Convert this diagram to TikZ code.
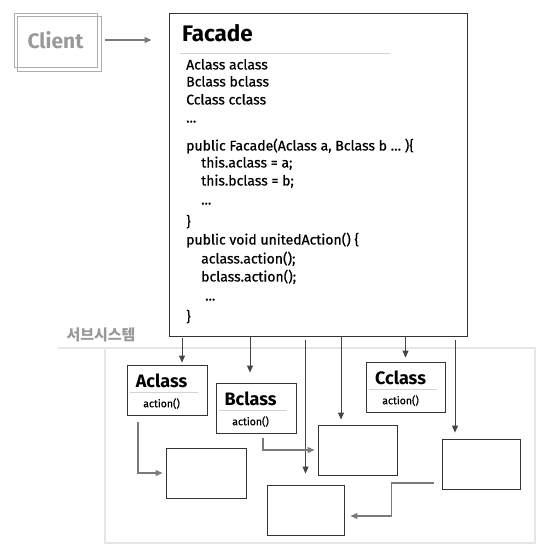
\documentclass[tikz,border=0pt]{standalone}
\usepackage{fontspec}
\setmainfont{Fira Sans}
\newfontfamily\codefont{Fira Sans}[FakeBold=0.6]
\newfontfamily\kofont{Noto Sans CJK KR}
\usetikzlibrary{arrows.meta, positioning}
\definecolor{boxgray}{HTML}{333333}
\definecolor{arrowgray}{HTML}{444444}
\definecolor{linkgray}{HTML}{7A7A7A}
\definecolor{sepgray}{HTML}{D4D4D4}
\definecolor{framegray}{HTML}{E6E6E6}
\definecolor{labelgray}{HTML}{999999}
\newcommand{\drawClassBox}[2]{%
  \node[classtitle] at ([xshift=35pt,yshift=-16pt]#1.north west) {#2};
  \draw[sepline] ([xshift=3pt,yshift=-28pt]#1.north west) -- ++(68pt,0pt);
  \node[method] at ([xshift=35pt,yshift=-39pt]#1.north west) {action()};}
\tikzset{
    arr/.style={-{Triangle[width=6pt,length=7pt]}, draw=arrowgray, line width=0.9pt},
    linkarr/.style={-{Triangle[width=6pt,length=7pt]}, draw=linkgray, line width=1.1pt},
    box/.style={draw=boxgray, line width=0.9pt, inner sep=0pt,
        minimum width=80pt, minimum height=50pt},
    code/.style={anchor=west, inner sep=0pt, text height=.7em, text depth=0pt,
        font=\codefont\fontsize{14}{16}\selectfont},
    classtitle/.style={inner sep=0pt, font=\bfseries\fontsize{18}{20}\selectfont},
    method/.style={inner sep=0pt, font=\codefont\fontsize{10.5}{12}\selectfont},
    sepline/.style={draw=sepgray, line width=0.8pt},
    clientline/.style={draw=labelgray!80, line width=0.9pt}}
\begin{document}
\begin{tikzpicture}[x=1pt, y=-1pt]
\useasboundingbox (0,0) rectangle (546,552);
% client
\node[clientline, draw, minimum width=83pt, minimum height=54pt,
    text=labelgray, font=\bfseries\fontsize{21}{24}\selectfont] (client) at (55.5,40) {Client};
\draw[clientline] ([xshift=4pt,yshift=-4pt]client.north west)
    rectangle ([xshift=4pt,yshift=-4pt]client.south east);
% facade
\node[box, minimum width=298pt, minimum height=323pt] (facade) at (318,174.5) {};
\node[inner sep=0pt, font=\bfseries\fontsize{22.5}{26}\selectfont] (title) at (217.5,33) {Facade};
\draw[sepline] (180,53) -- (390,53);
\node[code] at (186,66)  {Aclass aclass};
\node[code] at (186,83)  {Bclass bclass};
\node[code] at (186,101) {Cclass cclass};
\node[code] at (186,119) {...};
\node[code] at (186,147) {public Facade(Aclass a, Bclass b … )\{};
\node[code] at (201,164) {this.aclass = a;};
\node[code] at (201,182) {this.bclass = b;};
\node[code] at (201,201) {...};
\node[code] at (186,223) {\}};
\node[code] at (186,241) {public void unitedAction() \{};
\node[code] at (201,260) {aclass.action();};
\node[code] at (201,278) {bclass.action();};
\node[code] at (205,297) {...};
\node[code] at (186,318) {\}};
\draw[linkarr, shorten <=8pt, shorten >=17pt] (client.east) -- (client.east -| facade.west);
% subsystem
\draw[framegray, line width=2pt] (58,348) -- (535,348) -- (535,543) -- (105,543) -- (105,348);
\node[text=labelgray, font=\kofont\bfseries\fontsize{15}{18}\selectfont] (sub) at (101,335) {서브시스템};
\node[box] (aclass) at (167,390) {};
\node[box] (bclass) at (256,408) {};
\node[box, minimum width=79pt] (cclass) at (405.5,387) {};
\drawClassBox{aclass}{Aclass}
\drawClassBox{bclass}{Bclass}
\drawClassBox{cclass}{Cclass}
\node[box] (d) at (206,473) {};
\node[box, minimum width=77pt] (e) at (305.5,510) {};
\node[box, minimum width=79pt] (f) at (357.5,450) {};
\node[box, minimum width=78pt] (g) at (481,464) {};
% facade calls
\draw[arr, shorten <=2pt, shorten >=2pt] ([xshift=15pt]aclass.north |- facade.south) -- ([xshift=15pt]aclass.north);
\draw[arr, shorten <=1pt, shorten >=10pt] ([xshift=-6pt]bclass.north |- facade.south) -- ([xshift=-6pt]bclass.north);
\draw[arr, shorten <=4pt, shorten >=11pt] (e.north |- facade.south) -- (e.north);
\draw[arr, shorten >=5pt] ([xshift=-16.5pt]f.north |- facade.south) -- ([xshift=-16.5pt]f.north);
\draw[arr, shorten >=4pt] (cclass.north |- facade.south) -- (cclass.north);
\draw[arr, shorten <=4pt, shorten >=6pt] ([xshift=-26pt]g.north |- facade.south) -- ([xshift=-26pt]g.north);
% inside subsystem
\draw[linkarr, shorten >=3pt] ([xshift=-29pt,yshift=-7pt]aclass.south) |- (d.west);
\draw[linkarr, shorten >=3pt] ([xshift=7pt,yshift=-5pt]bclass.south) |- (f.west);
\draw[linkarr, shorten >=6pt] ([xshift=-8pt,yshift=-19pt]g.west) -- ++(-42,0) |- ([yshift=-6pt]e.east);
\end{tikzpicture}
\end{document}
